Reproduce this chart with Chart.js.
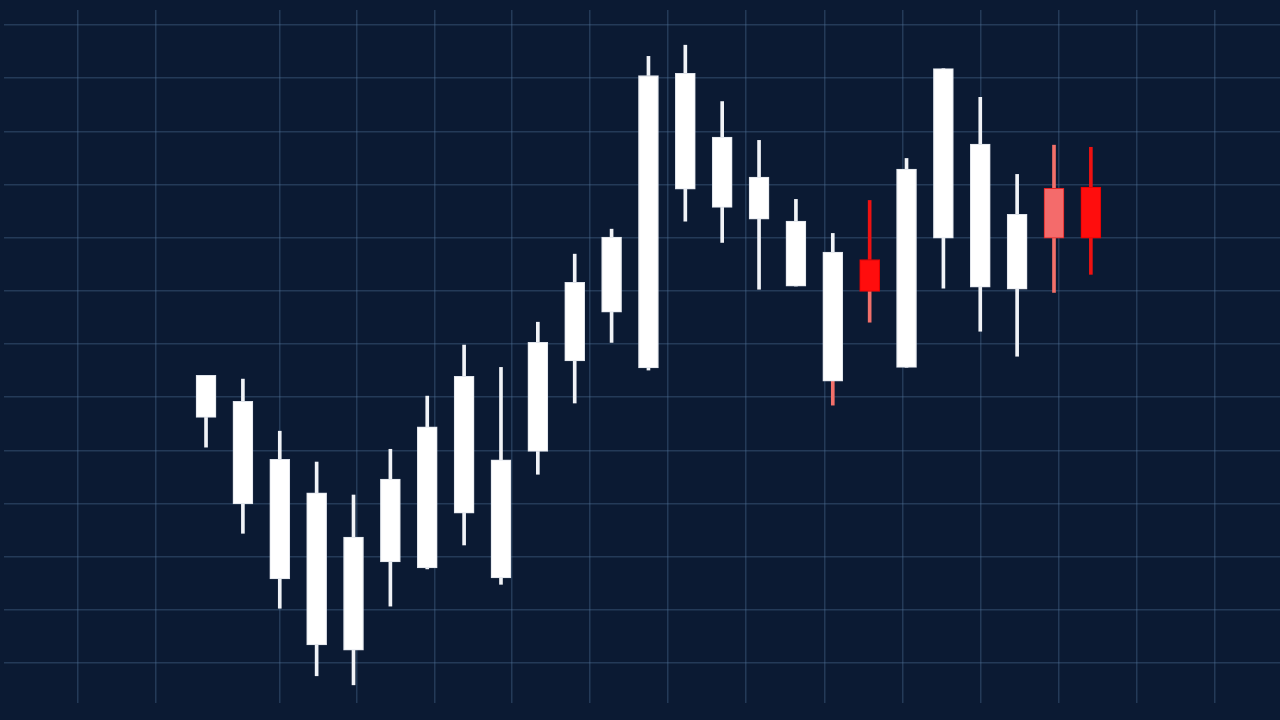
<!DOCTYPE html>
<html>
<head>
<meta charset="utf-8">
<title>Candlestick</title>
<script src="https://cdn.jsdelivr.net/npm/chart.js@4.4.1/dist/chart.umd.min.js"></script>
<style>
  html, body { margin: 0; padding: 0; background: #0b1a33; }
  #wrap { width: 1280px; height: 720px; }
</style>
</head>
<body>
<div id="wrap"><canvas id="candleChart"></canvas></div>
<script>
// one candle per session
const sessions = [
  '1', '2', '3', '4', '5', '6', '7', '8', '9', '10', '11', '12', '13',
  '14', '15', '16', '17', '18', '19', '20', '21', '22', '23', '24', '25'
];

const opens = [
  146.2, 129.9, 115.8, 103.4, 102.4, 119.0, 117.9, 128.2, 116.0, 139.8, 156.8, 166.0, 155.5,
  189.1, 185.7, 183.5, 170.9, 153.0, 175.9, 155.6, 179.9, 170.7, 170.3, 189.3, 189.5
];
const highs = [
  154.1, 153.4, 143.6, 137.8, 131.6, 140.2, 150.2, 159.8, 155.6, 164.1, 176.9, 181.6, 214.1,
  216.2, 205.6, 198.3, 187.2, 180.8, 187.0, 194.9, 211.8, 206.4, 191.9, 197.4, 197.0
];
const lows = [
  140.6, 124.4, 110.3, 97.6, 95.9, 110.7, 117.7, 122.2, 114.8, 135.5, 148.9, 160.3, 155.1,
  183.1, 179.1, 170.3, 170.9, 148.5, 164.1, 155.6, 170.5, 162.4, 157.7, 169.7, 173.1
];
const closes = [
  154.1, 149.2, 138.3, 132.0, 123.7, 134.6, 144.4, 153.9, 138.2, 160.3, 171.6, 180.1, 210.5,
  210.9, 198.9, 191.4, 183.1, 177.3, 169.9, 192.9, 211.8, 197.6, 184.4, 179.9, 179.9
];

// price grid every 10
const priceStep = 10;

// styling
const WHITE = '#ffffff';
const RED = '#ff0d0d';
const SOFT_RED = '#f46b6b';
const WICK_WHITE = '#f1f3f7';
const WICK_RED = '#ee1111';
const WICK_SALMON = '#f2706a';
const GRID = 'rgba(80, 110, 150, 0.38)';
const softCandles = [23];          // the paler red candle
const salmonTails = [17, 18, 23];  // lower wicks drawn in salmon
const verticalGrid = [78, 156, 280, 357, 435, 512, 590, 668, 746, 825, 903, 981, 1059, 1137, 1215];

const isDown = i => closes[i] < opens[i];

const bodyData = sessions.map((s, i) => ({x: i, y: [opens[i], closes[i]]}));
const upperWickData = sessions.map((s, i) => ({x: i, y: [Math.max(opens[i], closes[i]), highs[i]]}));
const lowerWickData = sessions.map((s, i) => ({x: i, y: [lows[i], Math.min(opens[i], closes[i])]}));

const bodyColor = ctx => {
  const i = ctx.dataIndex;
  if (softCandles.includes(i)) return SOFT_RED;
  return isDown(i) ? RED : WHITE;
};
const bodyBorder = ctx => {
  const i = ctx.dataIndex;
  if (softCandles.includes(i)) return '#e32222';
  return isDown(i) ? '#e40000' : '#dfe3ea';
};
const upperWickColor = ctx => {
  const i = ctx.dataIndex;
  if (softCandles.includes(i)) return WICK_SALMON;
  return isDown(i) ? WICK_RED : WICK_WHITE;
};
const lowerWickColor = ctx => {
  const i = ctx.dataIndex;
  if (salmonTails.includes(i)) return WICK_SALMON;
  return isDown(i) ? WICK_RED : WICK_WHITE;
};

const background = {
  id: 'background',
  beforeDraw(chart) {
    const c = chart.ctx;
    c.save();
    c.fillStyle = '#0b1a33';
    c.fillRect(0, 0, chart.width, chart.height);
    c.restore();
  }
};

const candleConfig = {
  type: 'bar',
  data: {
    datasets: [
      {
        label: 'body',
        data: bodyData,
        backgroundColor: bodyColor,
        borderColor: bodyBorder,
        borderWidth: 1,
        borderSkipped: false,
        barThickness: 20,
        grouped: false
      },
      {
        label: 'upper wick',
        data: upperWickData,
        backgroundColor: upperWickColor,
        borderWidth: 0,
        barThickness: 3,
        grouped: false
      },
      {
        label: 'lower wick',
        data: lowerWickData,
        backgroundColor: lowerWickColor,
        borderWidth: 0,
        barThickness: 3,
        grouped: false
      }
    ]
  },
  options: {
    responsive: true,
    maintainAspectRatio: false,
    animation: false,
    layout: { padding: { top: 10, bottom: 17, left: 4, right: 0 } },
    scales: {
      x: {
        type: 'linear',
        offset: false,
        min: -5.48,
        max: 29.13,
        grid: { display: false, drawTicks: false, offset: false },
        border: { display: false },
        ticks: { display: false }
      },
      xg: {
        type: 'linear',
        position: 'bottom',
        offset: false,
        min: 4,
        max: 1280,
        afterBuildTicks: axis => { axis.ticks = verticalGrid.map(v => ({value: v})); },
        grid: { color: GRID, lineWidth: 1.5, drawTicks: false, offset: false },
        border: { display: false },
        ticks: { display: false }
      },
      y: {
        min: 92.48,
        max: 222.82,
        grid: { color: GRID, lineWidth: 1.5, drawTicks: false },
        border: { display: false },
        ticks: { display: false, stepSize: priceStep, includeBounds: false }
      }
    },
    plugins: {
      legend: { display: false },
      tooltip: { enabled: false }
    }
  },
  plugins: [background]
};

const candleChart = new Chart(
  document.getElementById('candleChart'),
  candleConfig
);
</script>
</body>
</html>
